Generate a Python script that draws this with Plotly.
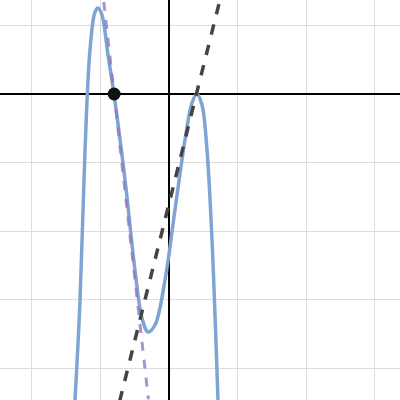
import plotly.graph_objects as go

U = 68.6
# curve points (in graph units)
px_pts = [(75,400),(80,300),(85,150),(90,50),(95,12),(98,8),(102,15),(108,55),(114,94),(125,180),(135,270),(142,318),(148,332),(155,325),(165,280),(175,210),(185,140),(192,103),(197,94),(202,105),(207,150),(212,240),(218,400)]
curve_x = [round((p[0]-169)/U, 3) for p in px_pts]
curve_y = [round((94-p[1])/U, 3) for p in px_pts]

tan1_x = [-0.72, 0.75]   # gray dashed tangent at (0.4, 0), slope 4
tan1_slope = 4.0
tan1_x0 = 0.4
tan2_x = [-0.98, -0.3]   # purple dashed tangent at (-0.8, 0), slope -8.9
tan2_slope = -8.9
tan2_x0 = -0.8
pt_x = [-0.8]
pt_y = [0]

fig = go.Figure()
fig.add_trace(go.Scatter(x=curve_x, y=curve_y, mode="lines", line=dict(color="#7ea4d2", width=3.5, shape="spline")))
fig.add_trace(go.Scatter(x=tan2_x, y=[tan2_slope*(x-tan2_x0) for x in tan2_x], mode="lines",
                         line=dict(color="rgba(150,120,190,0.8)", width=3, dash="dash")))
fig.add_trace(go.Scatter(x=tan1_x, y=[tan1_slope*(x-tan1_x0) for x in tan1_x], mode="lines",
                         line=dict(color="#444444", width=3.5, dash="dash")))
fig.add_trace(go.Scatter(x=pt_x, y=pt_y, mode="markers", marker=dict(color="#111111", size=13)))
ax = dict(showgrid=True, gridcolor="#dddddd", dtick=1, zeroline=True, zerolinecolor="black",
          zerolinewidth=1.5, showticklabels=False, ticks="")
fig.update_layout(width=400, height=400, margin=dict(l=0, r=0, t=0, b=0), showlegend=False,
                  plot_bgcolor="white", paper_bgcolor="white",
                  xaxis=dict(range=[-169/U, 231/U], **ax), yaxis=dict(range=[-306/U, 94/U], **ax))
fig.write_html("out.html", config={"displayModeBar": False},
               post_script="document.body.style.margin='0';document.body.style.overflow='hidden';")
